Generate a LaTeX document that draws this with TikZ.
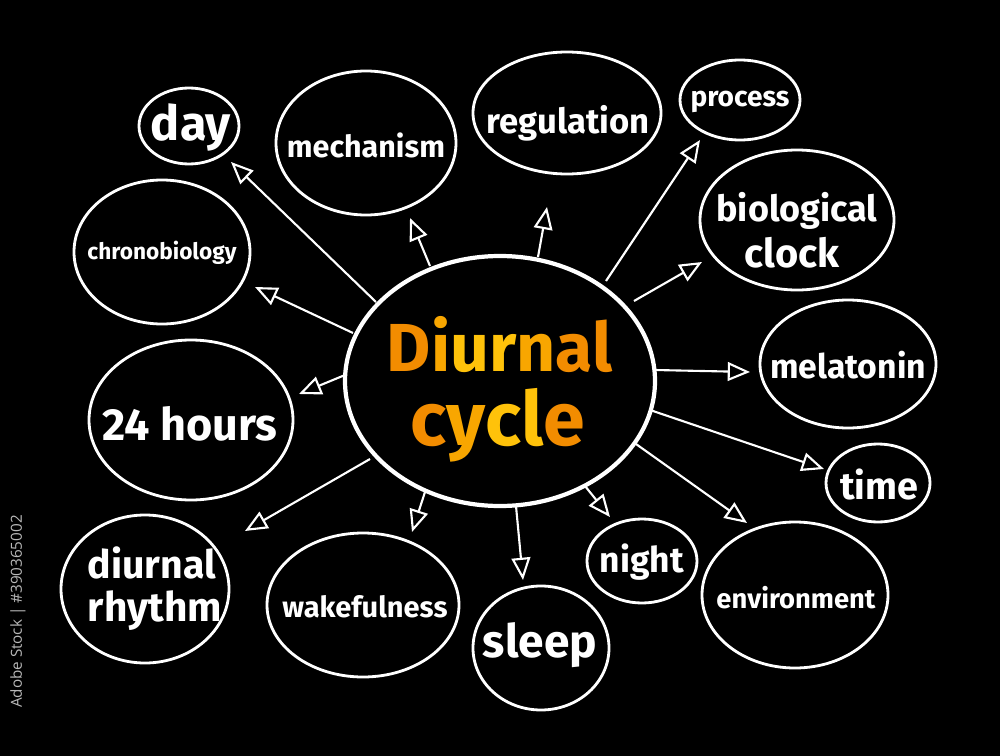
\documentclass[tikz,border=0pt]{standalone}
\usepackage{fontspec}
\setmainfont{Fira Sans}
\newfontfamily\wmfont{Open Sans}
\usepackage{graphicx}
\usetikzlibrary{shapes.geometric,arrows.meta}
\definecolor{cA}{HTML}{F28C00}
\definecolor{cB}{HTML}{F8A600}
\definecolor{cC}{HTML}{FFC20A}
\newlength\upx \setlength\upx{0.03cm}
\newcommand\tw[2]{\resizebox{#1\upx}{!}{\bfseries #2}}
\begin{document}
\begin{tikzpicture}[x=0.03cm,y=-0.03cm,
  el/.style 2 args={ellipse,draw=white,line width=2.4pt,minimum width=#1*0.06cm,minimum height=#2*0.06cm,inner sep=0pt},
  lbl/.style={text=white,inner sep=0pt,align=center},
  arr/.style={draw=white,line width=1.8pt,-{Triangle[open,length=19pt,width=16pt,line width=1.8pt]}}]
\useasboundingbox (0,0) rectangle (1000,756);
\fill[black] (0,0) rectangle (1000,756);

% watermark id
\node[text=gray!55,rotate=90,anchor=east,inner sep=0pt,font=\wmfont\fontsize{13}{15}\selectfont] (wm) at (18,515) {Adobe Stock | \#390365002};

% centre
\node[el={155}{125},line width=3.6pt] (c) at (500,381) {};
\node[inner sep=0pt] (ct1) at (500,345) {\tw{226}{{\color{cA}D}{\color{cB}i}{\color{cC}u}{\color{cC}r}{\color{cB}n}{\color{cA}a}{\color{cA}l}}};
\node[inner sep=0pt] (ct2) at (498,425) {\tw{175}{{\color{cA}c}{\color{cB}y}{\color{cC}c}{\color{cC}l}{\color{cA}e}}};

% bubbles
\node[el={50}{38}] (day) at (189,126) {};
\node[lbl] (dayt) at (191,127) {\tw{80}{day}};
\node[el={90}{72}] (mech) at (366,143) {};
\node[lbl] (mecht) at (366,145) {\tw{158}{mechanism}};
\node[el={94}{61}] (reg) at (567,113) {};
\node[lbl] (regt) at (568,123) {\tw{163}{regulation}};
\node[el={60}{40}] (proc) at (740,100) {};
\node[lbl] (proct) at (740,102) {\tw{99}{process}};
\node[el={97}{70}] (bio) at (797,220) {};
\node[lbl] (biot1) at (797,211) {\tw{161}{biological}};
\node[lbl] (biot2) at (792,253) {\tw{95}{clock}};
\node[el={88}{72}] (chr) at (162,252) {};
\node[lbl] (chrt) at (162,253) {\tw{149}{chronobiology}};
\node[el={102}{80}] (h24) at (191,420) {};
\node[lbl] (h24t) at (190,424) {\tw{175}{24 hours}};
\node[el={88}{64}] (mel) at (848,364) {};
\node[lbl] (melt) at (848,365) {\tw{156}{melatonin}};
\node[el={52}{39}] (time) at (878,483) {};
\node[lbl] (timet) at (879,484) {\tw{78}{time}};
\node[el={93}{73}] (env) at (795,595) {};
\node[lbl] (envt) at (796,598) {\tw{159}{environment}};
\node[el={84}{74}] (rhy) at (145,589) {};
\node[lbl] (rhyt1) at (152,563) {\tw{128}{diurnal}};
\node[lbl] (rhyt2) at (155,611) {\tw{134}{rhythm}};
\node[el={96}{72}] (wake) at (363,605) {};
\node[lbl] (waket) at (365,607) {\tw{165}{wakefulness}};
\node[el={68}{62}] (sleep) at (541,648) {};
\node[lbl] (sleept) at (540,645) {\tw{114}{sleep}};
\node[el={55}{42}] (night) at (642,561) {};
\node[lbl] (nightt) at (642,562) {\tw{84}{night}};

% arrow coordinates
\coordinate (s1) at (376,302);  \coordinate (t1) at (231,162);
\coordinate (s2) at (353,333);  \coordinate (t2) at (255,287);
\coordinate (s3) at (345,375);  \coordinate (t3) at (299,394);
\coordinate (s4) at (370,459);  \coordinate (t4) at (245,531);
\coordinate (s5) at (425,492);  \coordinate (t5) at (412,532);
\coordinate (s6) at (516,506);  \coordinate (t6) at (523,580);
\coordinate (s7) at (585,486);  \coordinate (t7) at (610,517);
\coordinate (s8) at (636,444);  \coordinate (t8) at (747,523);
\coordinate (s9) at (650,410);  \coordinate (t9) at (824,469);
\coordinate (s10) at (655,370); \coordinate (t10) at (750,372);
\coordinate (s11) at (634,301); \coordinate (t11) at (702,262);
\coordinate (s12) at (606,281); \coordinate (t12) at (700,140);
\coordinate (s13) at (538,257); \coordinate (t13) at (547,207);
\coordinate (s14) at (430,266); \coordinate (t14) at (410,218);

\foreach \i in {1,...,14} { \draw[arr] (s\i) -- (t\i); }
\end{tikzpicture}
\end{document}
